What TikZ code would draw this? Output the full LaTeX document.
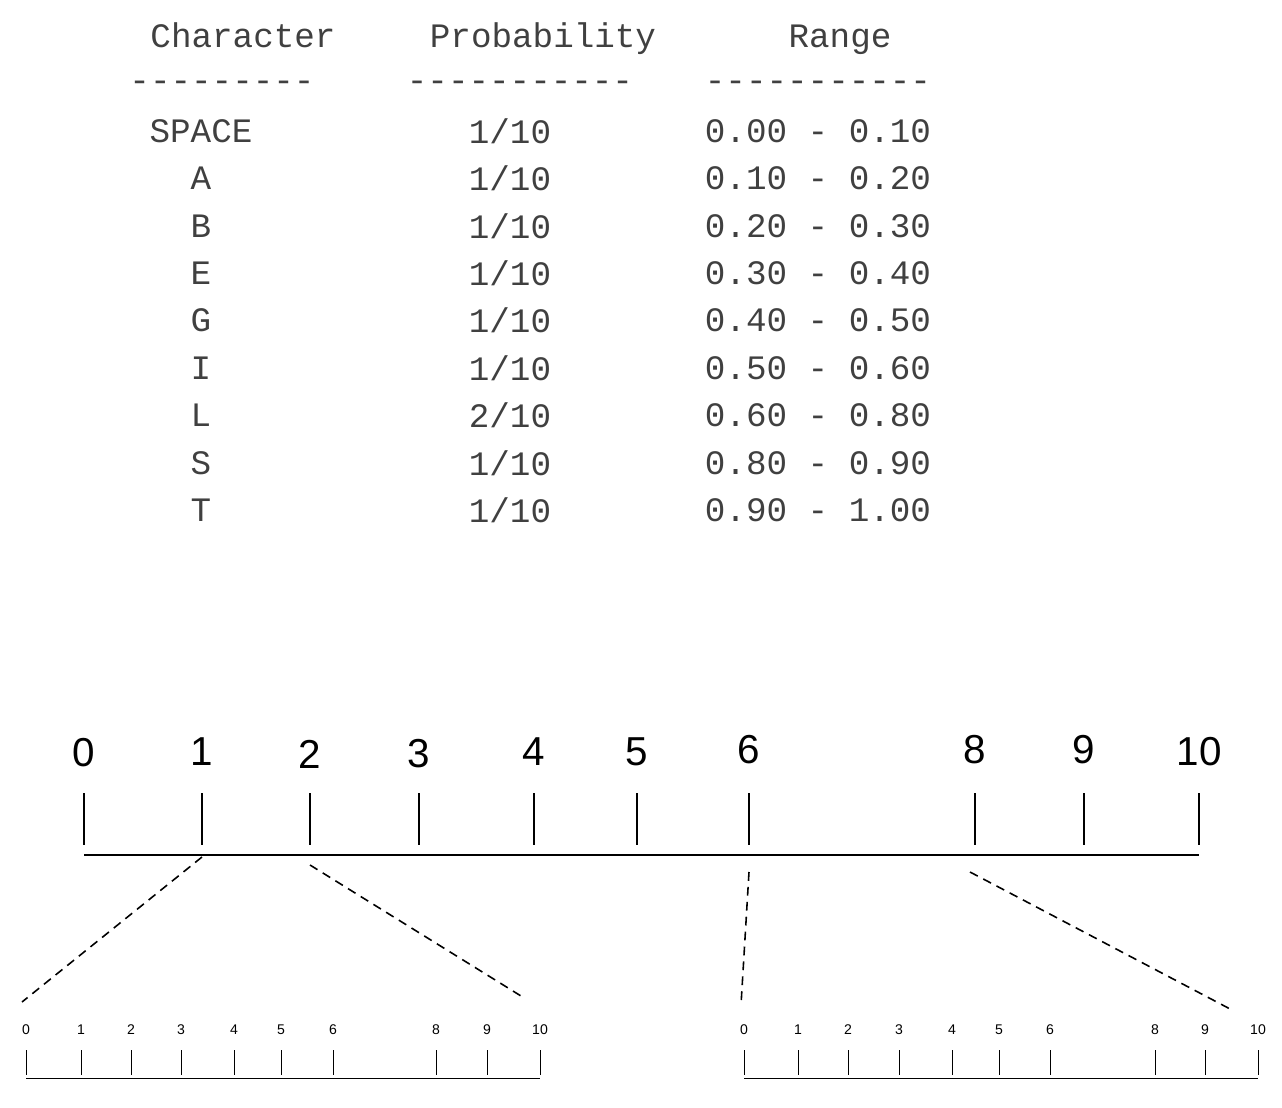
\documentclass[tikz,border=0pt]{standalone}
\usepackage{fontspec}
\setmainfont{Liberation Sans}
\newfontfamily\monof{Liberation Mono}
\begin{document}
\begin{tikzpicture}[x=0.02cm,y=-0.02cm,
  mono/.style={font=\monof\fontsize{19.5}{22}\selectfont,text=black!75,inner sep=0},
  bignum/.style={font=\fontsize{23}{26}\selectfont,inner sep=0},
  smallnum/.style={font=\fontsize{8}{9}\selectfont,inner sep=0},
  dsh/.style={dashed,line width=0.9pt,dash pattern=on 5pt off 3.5pt}]
\useasboundingbox (0,0) rectangle (1282,1108);
% table header
\node[mono,anchor=base] (h1) at (243,48) {Character};
\node[mono,anchor=base] (h2) at (543,48) {Probability};
\node[mono,anchor=base] (h3) at (840,48) {Range};
\node[mono,anchor=base] (d1) at (222,92) {---------};
\node[mono,anchor=base] (d2) at (520,92) {-----------};
\node[mono,anchor=base] (d3) at (818,92) {-----------};
\foreach \c/\p/\r [count=\i] in {SPACE/1\slash 10/0.00 - 0.10, A/1\slash 10/0.10 - 0.20, B/1\slash 10/0.20 - 0.30, E/1\slash 10/0.30 - 0.40, G/1\slash 10/0.40 - 0.50, I/1\slash 10/0.50 - 0.60, L/2\slash 10/0.60 - 0.80, S/1\slash 10/0.80 - 0.90, T/1\slash 10/0.90 - 1.00}{
  \pgfmathsetmacro\yy{131+47.4*(\i-1)}
  \node[mono] (c\i) at (201,\yy) {\c};
  \node[mono] (p\i) at (510,\yy) {\p};
  \node[mono] (r\i) at (818,\yy) {\r};
}
% main scale
\draw[line width=1.3pt] (84,855) coordinate (mL) -- (1199,855) coordinate (mR);
\foreach \n/\x/\ly in {0/84/753,1/202/752,2/310/754,3/419/754,4/534/752,5/637/752,6/749/750,8/975/750,9/1084/750,10/1199/752}{
  \draw[line width=1.3pt] (\x,793) -- (\x,845);
  \node[bignum] (m\n) at (\x,\ly) {\n};
}
\coordinate (a1) at (202,857); \coordinate (b1) at (22,1002);
\coordinate (a2) at (310,865); \coordinate (b2) at (521,996);
\coordinate (a3) at (749,872); \coordinate (b3) at (741,1005);
\coordinate (a4) at (970,872); \coordinate (b4) at (1232,1010);
\foreach \i in {1,2,3,4}{\draw[dsh] (a\i) -- (b\i);}
% small scales
\draw[line width=0.5pt] (26,1078) -- (540,1078);
\foreach \n/\x in {0/26,1/81,2/131,3/181,4/234,5/281,6/333,8/436,9/487,10/540}{
  \draw[line width=0.5pt] (\x,1050) -- (\x,1075);
  \node[smallnum] (l\n) at (\x,1030) {\n};
}
\draw[line width=0.5pt] (744,1078) -- (1258,1078);
\foreach \n/\x in {0/744,1/798,2/848,3/899,4/952,5/999,6/1050,8/1155,9/1205,10/1258}{
  \draw[line width=0.5pt] (\x,1050) -- (\x,1075);
  \node[smallnum] (r\n) at (\x,1030) {\n};
}
\end{tikzpicture}
\end{document}
